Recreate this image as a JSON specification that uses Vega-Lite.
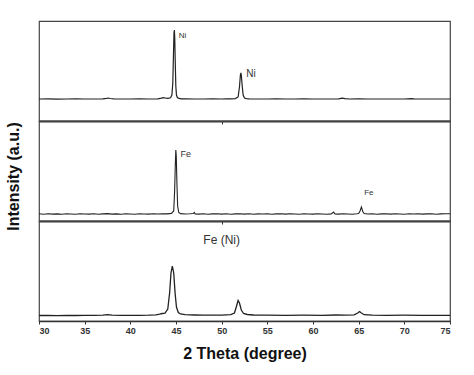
{
  "$schema": "https://vega.github.io/schema/vega-lite/v6.json",
  "padding": {"left": 4, "top": 20, "right": 20, "bottom": 5},
  "spacing": 0,
  "bounds": "flush",
  "config": {
    "view": {"stroke": "#444", "strokeWidth": 1.2},
    "font": "Liberation Sans",
    "axis": {"grid": false}
  },
  "datasets": {
    "ni": [
      {"t":30,"i":22},{"t":31,"i":22.1},{"t":32,"i":21.9},{"t":33,"i":22},{"t":34,"i":22.1},{"t":35,"i":22},{"t":36,"i":22},{"t":37,"i":22.2},{"t":37.4,"i":22.6},{"t":37.6,"i":23},{"t":37.8,"i":22.5},{"t":38.2,"i":22.1},{"t":39,"i":22},{"t":40,"i":22},{"t":41,"i":22.1},{"t":42,"i":22},{"t":43,"i":22.2},{"t":43.4,"i":22.8},{"t":43.6,"i":23.3},{"t":43.8,"i":23},{"t":44.1,"i":22.6},{"t":44.4,"i":23.2},{"t":44.55,"i":26},{"t":44.65,"i":38},{"t":44.72,"i":65},{"t":44.78,"i":88},{"t":44.82,"i":91},{"t":44.86,"i":84},{"t":44.92,"i":58},{"t":44.98,"i":35},{"t":45.05,"i":26},{"t":45.15,"i":23.5},{"t":45.3,"i":22.6},{"t":45.6,"i":22.2},{"t":46,"i":22.1},{"t":47,"i":22},{"t":48,"i":22},{"t":49,"i":22.1},{"t":50,"i":22},{"t":50.5,"i":22.1},{"t":51,"i":22.2},{"t":51.5,"i":22.4},{"t":51.8,"i":24},{"t":51.95,"i":34},{"t":52.05,"i":46},{"t":52.1,"i":48},{"t":52.15,"i":46},{"t":52.25,"i":35},{"t":52.35,"i":26},{"t":52.5,"i":23},{"t":52.7,"i":22.4},{"t":53,"i":22.1},{"t":54,"i":22},{"t":55,"i":22},{"t":56,"i":22.1},{"t":57,"i":22},{"t":58,"i":22},{"t":59,"i":22.1},{"t":60,"i":22},{"t":61,"i":22},{"t":62,"i":22},{"t":62.8,"i":22.2},{"t":63.2,"i":22.8},{"t":63.5,"i":22.3},{"t":64,"i":22},{"t":65,"i":22.1},{"t":66,"i":22},{"t":67,"i":22},{"t":68,"i":22},{"t":69,"i":22},{"t":70,"i":22},{"t":70.8,"i":22.3},{"t":71.2,"i":22},{"t":72,"i":22},{"t":73,"i":22},{"t":74,"i":22},{"t":75,"i":22}
    ],
    "fe": [
      {"t":30,"i":7.2},{"t":30.5,"i":6.8},{"t":31,"i":7.3},{"t":31.5,"i":6.9},{"t":32,"i":7.1},{"t":32.5,"i":6.7},{"t":33,"i":7.2},{"t":33.5,"i":7},{"t":34,"i":6.8},{"t":34.5,"i":7.3},{"t":35,"i":7},{"t":35.5,"i":6.9},{"t":36,"i":7.2},{"t":36.5,"i":6.8},{"t":37,"i":7.1},{"t":37.5,"i":7.4},{"t":38,"i":6.9},{"t":38.5,"i":7.1},{"t":39,"i":6.8},{"t":39.5,"i":7.2},{"t":40,"i":7},{"t":40.5,"i":6.8},{"t":41,"i":7.3},{"t":41.5,"i":7},{"t":42,"i":6.9},{"t":42.5,"i":7.2},{"t":43,"i":7},{"t":43.5,"i":7.3},{"t":44,"i":7.1},{"t":44.5,"i":7.6},{"t":44.75,"i":10},{"t":44.85,"i":30},{"t":44.92,"i":55},{"t":44.98,"i":71},{"t":45.03,"i":65},{"t":45.1,"i":38},{"t":45.18,"i":15},{"t":45.3,"i":8.5},{"t":45.5,"i":7.4},{"t":46,"i":7},{"t":46.5,"i":7.2},{"t":46.9,"i":7.5},{"t":47,"i":8.5},{"t":47.1,"i":7.1},{"t":47.5,"i":6.9},{"t":48,"i":7.2},{"t":48.5,"i":6.8},{"t":49,"i":7.1},{"t":49.5,"i":7.3},{"t":50,"i":6.9},{"t":50.5,"i":7.2},{"t":51,"i":6.8},{"t":51.5,"i":7.1},{"t":52,"i":7.3},{"t":52.5,"i":6.9},{"t":53,"i":7.2},{"t":53.5,"i":6.8},{"t":54,"i":7.1},{"t":54.5,"i":7},{"t":55,"i":7.3},{"t":55.5,"i":6.8},{"t":56,"i":7.1},{"t":56.5,"i":7.2},{"t":57,"i":6.9},{"t":57.5,"i":7.3},{"t":58,"i":7},{"t":58.5,"i":6.8},{"t":59,"i":7.2},{"t":59.5,"i":7},{"t":60,"i":6.9},{"t":60.5,"i":7.3},{"t":61,"i":7},{"t":61.5,"i":6.8},{"t":62,"i":7.1},{"t":62.25,"i":9},{"t":62.4,"i":7.1},{"t":62.8,"i":6.9},{"t":63.3,"i":7.2},{"t":63.8,"i":7},{"t":64.3,"i":6.8},{"t":64.8,"i":7.2},{"t":65,"i":7.5},{"t":65.15,"i":10},{"t":65.3,"i":14},{"t":65.45,"i":9.5},{"t":65.6,"i":7.5},{"t":66,"i":7},{"t":66.5,"i":7.3},{"t":67,"i":6.8},{"t":67.5,"i":7.1},{"t":68,"i":7.2},{"t":68.5,"i":6.9},{"t":69,"i":7.3},{"t":69.5,"i":7},{"t":70,"i":6.8},{"t":70.5,"i":7.2},{"t":71,"i":7},{"t":71.5,"i":7.3},{"t":72,"i":6.9},{"t":72.5,"i":7.1},{"t":73,"i":7.3},{"t":73.5,"i":6.8},{"t":74,"i":7.1},{"t":74.5,"i":7.3},{"t":75,"i":7.2}
    ],
    "feni": [
      {"t":30,"i":5.5},{"t":31,"i":5.6},{"t":32,"i":5.4},{"t":33,"i":5.6},{"t":34,"i":5.5},{"t":35,"i":5.7},{"t":36,"i":5.6},{"t":37,"i":5.8},{"t":37.5,"i":6.4},{"t":38,"i":5.9},{"t":39,"i":5.7},{"t":40,"i":5.6},{"t":41,"i":5.7},{"t":42,"i":5.8},{"t":42.8,"i":6.1},{"t":43.2,"i":6.8},{"t":43.5,"i":7.5},{"t":43.8,"i":7.8},{"t":44.1,"i":12},{"t":44.3,"i":28},{"t":44.45,"i":48},{"t":44.6,"i":55},{"t":44.75,"i":48},{"t":44.9,"i":28},{"t":45.05,"i":14},{"t":45.25,"i":8.5},{"t":45.5,"i":7},{"t":46,"i":6.3},{"t":47,"i":6},{"t":48,"i":5.8},{"t":49,"i":5.9},{"t":50,"i":5.9},{"t":51,"i":6.3},{"t":51.4,"i":8},{"t":51.6,"i":14},{"t":51.8,"i":20.5},{"t":51.95,"i":18},{"t":52.15,"i":11},{"t":52.4,"i":7.5},{"t":52.8,"i":6.5},{"t":53.5,"i":6},{"t":55,"i":5.8},{"t":57,"i":5.7},{"t":59,"i":5.8},{"t":61,"i":5.7},{"t":62.5,"i":6},{"t":63.5,"i":5.8},{"t":64.5,"i":6.2},{"t":64.9,"i":8},{"t":65.1,"i":9.5},{"t":65.3,"i":8},{"t":65.6,"i":6.3},{"t":66.5,"i":5.8},{"t":68,"i":5.7},{"t":70,"i":5.8},{"t":72,"i":5.6},{"t":74,"i":5.7},{"t":75,"i":5.6}
    ]
  },
  "vconcat": [
    {
      "width": 411, "height": 100,
      "layer": [
        {
          "data": {"name": "ni"},
          "mark": {"type": "line", "color": "#222", "strokeWidth": 1.2},
          "encoding": {
            "x": {"field": "t", "type": "quantitative", "scale": {"domain": [30, 75], "nice": false},
                  "axis": {"orient": "bottom", "values": [50], "labels": false, "title": null, "domainColor": "#333", "domainWidth": 2, "tickColor": "#333", "tickSize": 3}},
            "y": {"field": "i", "type": "quantitative", "scale": {"domain": [0, 100]}, "axis": null}
          }
        },
        {
          "data": {"values": [{"t": 45.3, "i": 85, "label": "Ni"}]},
          "mark": {"type": "text", "align": "left", "baseline": "middle", "fontSize": 8, "color": "#333"},
          "encoding": {"x": {"field": "t", "type": "quantitative"}, "y": {"field": "i", "type": "quantitative"}, "text": {"field": "label"}}
        },
        {
          "data": {"values": [{"t": 52.7, "i": 47, "label": "Ni"}]},
          "mark": {"type": "text", "align": "left", "baseline": "middle", "fontSize": 10, "color": "#333"},
          "encoding": {"x": {"field": "t", "type": "quantitative"}, "y": {"field": "i", "type": "quantitative"}, "text": {"field": "label"}}
        }
      ]
    },
    {
      "width": 411, "height": 100,
      "layer": [
        {
          "data": {"name": "fe"},
          "mark": {"type": "line", "color": "#222", "strokeWidth": 1.1},
          "encoding": {
            "x": {"field": "t", "type": "quantitative", "scale": {"domain": [30, 75], "nice": false},
                  "axis": {"orient": "bottom", "values": [50], "labels": false, "title": null, "domainColor": "#333", "domainWidth": 2, "tickColor": "#333", "tickSize": 3}},
            "y": {"field": "i", "type": "quantitative", "scale": {"domain": [0, 100]},
                  "axis": {"title": "Intensity (a.u.)", "labels": false, "ticks": false, "domain": false, "titleFontSize": 16, "titleFontWeight": "bold", "titleColor": "#111", "titlePadding": 18, "titleY": 55, "titleFont": "Liberation Sans"}}
          }
        },
        {
          "data": {"values": [{"t": 45.5, "i": 67, "label": "Fe"}]},
          "mark": {"type": "text", "align": "left", "baseline": "middle", "fontSize": 9, "color": "#333"},
          "encoding": {"x": {"field": "t", "type": "quantitative"}, "y": {"field": "i", "type": "quantitative"}, "text": {"field": "label"}}
        },
        {
          "data": {"values": [{"t": 65.6, "i": 28, "label": "Fe"}]},
          "mark": {"type": "text", "align": "left", "baseline": "middle", "fontSize": 8, "color": "#333"},
          "encoding": {"x": {"field": "t", "type": "quantitative"}, "y": {"field": "i", "type": "quantitative"}, "text": {"field": "label"}}
        }
      ]
    },
    {
      "width": 411, "height": 100,
      "layer": [
        {
          "data": {"name": "feni"},
          "mark": {"type": "line", "color": "#222", "strokeWidth": 1.3},
          "encoding": {
            "x": {"field": "t", "type": "quantitative", "scale": {"domain": [30, 75], "nice": false},
                  "axis": {"orient": "bottom", "title": "2 Theta (degree)", "values": [30,32.5,35,37.5,40,42.5,45,47.5,50,52.5,55,57.5,60,62.5,65,67.5,70,72.5,75],
                           "labelExpr": "datum.value % 5 === 0 ? datum.label : ''", "labelFontSize": 9, "labelFontWeight": "bold", "labelColor": "#333", "labelPadding": 2,
                           "domainColor": "#333", "domainWidth": 1.5, "tickColor": "#333", "tickSize": 3,
                           "titleFontSize": 16, "titleFontWeight": "bold", "titleColor": "#111", "titlePadding": 10}},
            "y": {"field": "i", "type": "quantitative", "scale": {"domain": [0, 100]}, "axis": null}
          }
        },
        {
          "data": {"values": [{"t": 50, "i": 81, "label": "Fe (Ni)"}]},
          "mark": {"type": "text", "align": "center", "baseline": "middle", "fontSize": 12, "color": "#333"},
          "encoding": {"x": {"field": "t", "type": "quantitative"}, "y": {"field": "i", "type": "quantitative"}, "text": {"field": "label"}}
        }
      ]
    }
  ]
}
